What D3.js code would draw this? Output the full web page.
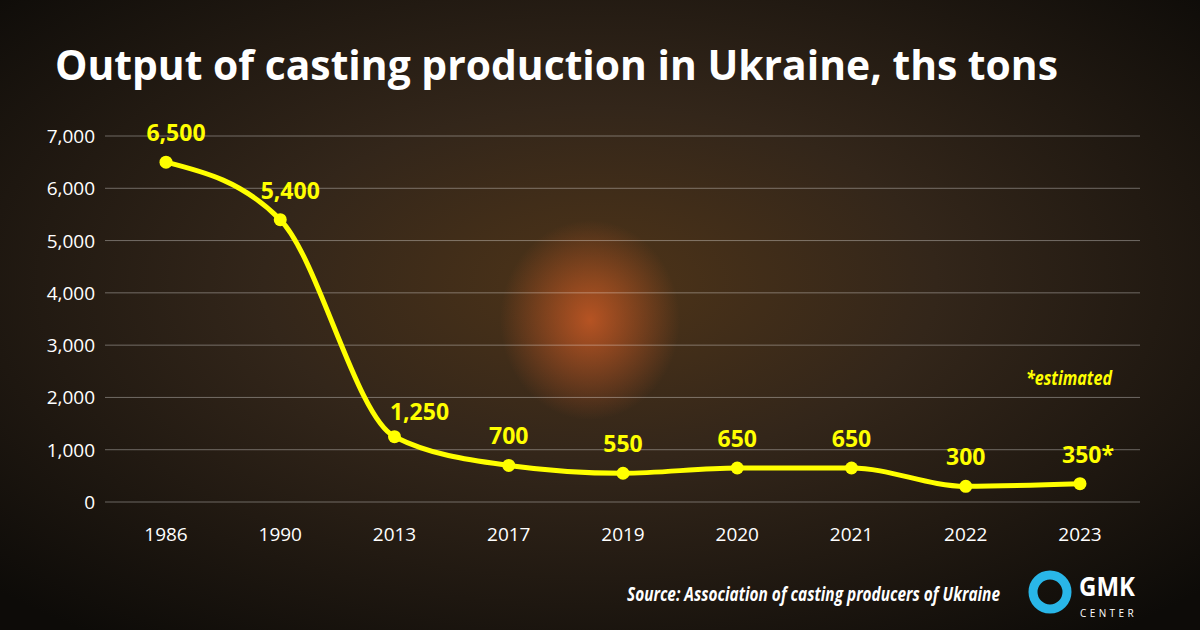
<!DOCTYPE html>
<html><head><meta charset="utf-8">
<script src="https://cdn.jsdelivr.net/npm/d3@7"></script>
<style>body{margin:0;background:#000}svg{display:block}</style></head>
<body><svg id="c" width="1200" height="630"></svg>
<script>
const years = ["1986","1990","2013","2017","2019","2020","2021","2022","2023"];
const values = [6500,5400,1250,700,550,650,650,300,350];
const valueLabels = ["6,500","5,400","1,250","700","550","650","650","300","350*"];
const yTicks = [0,1000,2000,3000,4000,5000,6000,7000];

const svg = d3.select("#c");
const defs = svg.append("defs");
const g1 = defs.append("radialGradient").attr("id","bg").attr("cx","50%").attr("cy","45%").attr("r","70%");
g1.append("stop").attr("offset","0%").attr("stop-color","#4e3418");
g1.append("stop").attr("offset","40%").attr("stop-color","#33261a");
g1.append("stop").attr("offset","100%").attr("stop-color","#0d0b08");
svg.append("rect").attr("width",1200).attr("height",630).attr("fill","url(#bg)");
const g2 = defs.append("radialGradient").attr("id","glow").attr("cx","50%").attr("cy","50%").attr("r","50%");
g2.append("stop").attr("offset","0%").attr("stop-color","#ff6a2a").attr("stop-opacity",0.6);
g2.append("stop").attr("offset","100%").attr("stop-color","#ff6a2a").attr("stop-opacity",0);
svg.append("ellipse").attr("cx",590).attr("cy",320).attr("rx",90).attr("ry",100).attr("fill","url(#glow)");

const x = d3.scalePoint().domain(years).range([166,1080]);
const y = d3.scaleLinear().domain([0,7000]).range([502,136]);

svg.append("g").selectAll("line").data(yTicks).join("line")
  .attr("x1",105).attr("x2",1140).attr("y1",d=>y(d)).attr("y2",d=>y(d))
  .attr("stroke","#ffffff").attr("stroke-opacity",0.35).attr("stroke-width",1);

const font = "'Open Sans',sans-serif";
svg.append("g").selectAll("text").data(yTicks).join("text")
  .attr("x",95).attr("y",d=>y(d)+7).attr("text-anchor","end")
  .attr("fill","#fff").attr("font-family",font).attr("font-size",19).text(d=>d3.format(",")(d));

svg.append("g").selectAll("text").data(years).join("text")
  .attr("x",d=>x(d)).attr("y",541).attr("text-anchor","middle")
  .attr("fill","#fff").attr("font-family",font).attr("font-size",19).text(d=>d);

const line = d3.line().x((d,i)=>x(years[i])).y(d=>y(d)).curve(d3.curveMonotoneX);
svg.append("path").datum(values).attr("d",line).attr("fill","none")
  .attr("stroke","#ffff00").attr("stroke-width",5);
svg.append("g").selectAll("circle").data(values).join("circle")
  .attr("cx",(d,i)=>x(years[i])).attr("cy",d=>y(d)).attr("r",6.5).attr("fill","#ffff00");
svg.append("g").selectAll("text").data(values).join("text")
  .attr("x",(d,i)=>x(years[i])+(i==8?8:(i<2?10:(i==2?25:0)))).attr("y",(d,i)=>y(d)-(i==2?17:21)).attr("text-anchor","middle")
  .attr("fill","#ffff00").attr("font-family",font).attr("font-weight","bold").attr("font-size",23)
  .text((d,i)=>valueLabels[i]);

svg.append("text").attr("x",55).attr("y",80).attr("fill","#fff")
  .attr("font-family",font).attr("font-weight","bold").attr("font-size",42)
  .attr("textLength",1003).attr("lengthAdjust","spacingAndGlyphs")
  .text("Output of casting production in Ukraine, ths tons");

svg.append("text").attr("x",1112).attr("y",385).attr("text-anchor","end").attr("fill","#ffff00")
  .attr("font-family",font).attr("font-style","italic").attr("font-weight","bold").attr("font-size",19)
  .attr("textLength",86).attr("lengthAdjust","spacingAndGlyphs").text("*estimated");

svg.append("text").attr("x",1000).attr("y",601).attr("text-anchor","end").attr("fill","#fff")
  .attr("font-family",font).attr("font-style","italic").attr("font-weight","bold").attr("font-size",19)
  .attr("textLength",373).attr("lengthAdjust","spacingAndGlyphs")
  .text("Source: Association of casting producers of Ukraine");

// logo
const lg = svg.append("g").attr("transform","translate(1050,592)");
lg.append("circle").attr("r",17).attr("fill","none").attr("stroke","#29b6e8").attr("stroke-width",9);
svg.append("text").attr("x",1079).attr("y",596).attr("fill","#fff").attr("font-family",font)
  .attr("font-weight","bold").attr("font-size",26).attr("textLength",56).attr("lengthAdjust","spacingAndGlyphs").text("GMK");
svg.append("text").attr("x",1080).attr("y",617).attr("fill","#fff").attr("font-family",font)
  .attr("font-size",10).attr("letter-spacing",3.4).text("CENTER");
</script></body></html>
